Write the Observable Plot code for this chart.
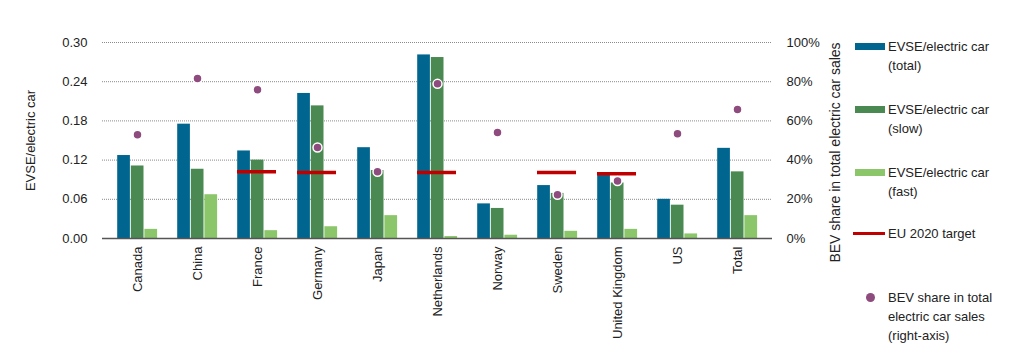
<!DOCTYPE html>
<html>
<head>
<meta charset="utf-8">
<script src="https://cdn.jsdelivr.net/npm/d3@7"></script>
<script src="https://cdn.jsdelivr.net/npm/@observablehq/plot@0.6"></script>
<style>
  html, body { margin: 0; padding: 0; background: #fff; }
  #wrap { position: relative; width: 1024px; height: 361px; overflow: hidden; font-family: "Liberation Sans", Arial, sans-serif; color: #222; }
  .lg { position: absolute; font-size: 13px; line-height: 19px; color: #222; }
  .sw { position: absolute; }
</style>
</head>
<body>
<div id="wrap"></div>
<script>
const countries = ["Canada","China","France","Germany","Japan","Netherlands","Norway","Sweden","United Kingdom","US","Total"];
const evseTotal = [0.127,0.175,0.134,0.222,0.139,0.281,0.053,0.081,0.101,0.060,0.138];
const evseSlow  = [0.111,0.106,0.120,0.203,0.104,0.277,0.046,0.069,0.085,0.051,0.102];
const evseFast  = [0.014,0.067,0.012,0.018,0.035,0.003,0.005,0.011,0.014,0.007,0.035];
const bevShare  = [52.9,81.6,75.9,46.4,34.0,78.9,54.1,22.3,29.3,53.4,65.8];
const euTarget  = [null,null,0.102,0.101,null,0.101,null,0.101,0.099,null,null];
const leftTicks = [0,0.06,0.12,0.18,0.24,0.30];
const rightTicks = [0,20,40,60,80,100];
const rightMax = 100;
const leftMax = 0.30;

const C = {total:"#00668F", slow:"#4A8A52", fast:"#8CC66A", target:"#C00000", share:"#8E4B7E"};

const rows = countries.map((c,i)=>({country:c, total:evseTotal[i], slow:evseSlow[i], fast:evseFast[i], share:bevShare[i], target:euTarget[i]}));

const chart = Plot.plot({
  width: 1024, height: 361,
  marginTop: 42, marginBottom: 123, marginLeft: 102, marginRight: 252,
  style: {fontFamily: "'Liberation Sans', Arial, sans-serif", fontSize: "13px", color: "#222", background: "transparent"},
  x: {domain: countries, paddingInner: 0, paddingOuter: 0, axis: null},
  y: {domain: [0, leftMax], axis: null},
  marks: [
    Plot.ruleY(leftTicks.filter(t => t > 0), {stroke: "#8a8a8a", strokeDasharray: "1,1", strokeWidth: 1}),
    Plot.barY(rows, {x: "country", y: "total", fill: C.total, insetLeft: 10.2, insetRight: 37.1}),
    Plot.barY(rows, {x: "country", y: "slow", fill: C.slow, insetLeft: 23.8, insetRight: 23.5}),
    Plot.barY(rows, {x: "country", y: "fast", fill: C.fast, insetLeft: 37.4, insetRight: 9.9}),
    Plot.ruleY([0], {stroke: "#555", strokeWidth: 1.5}),
    Plot.tickY(rows.filter(d => d.target != null), {x: "country", y: "target", stroke: C.target, strokeWidth: 3.5, insetLeft: 10, insetRight: 11}),
    Plot.dot(rows, {x: "country", y: d => d.share / rightMax * leftMax, r: 4.5, fill: C.share, stroke: "white", strokeWidth: 1.5}),
    Plot.axisX({tickRotate: -90, tickSize: 0, tickPadding: 8, label: null, fontSize: 13}),
    Plot.axisY(leftTicks, {tickSize: 0, tickPadding: 15, tickFormat: d => d.toFixed(2), label: null, fontSize: 13}),
    Plot.axisY(rightTicks.map(t => t / rightMax * leftMax), {anchor: "right", tickSize: 0, tickPadding: 14, tickFormat: d => Math.round(d / leftMax * rightMax) + "%", label: null, fontSize: 13}),
    Plot.text(["EVSE/electric car"], {frameAnchor: "left", textAnchor: "middle", dx: -72, rotate: -90, fontSize: 13, fill: "#222"}),
    Plot.text(["BEV share in total electric car sales"], {frameAnchor: "right", textAnchor: "middle", dx: 63, dy: 12, rotate: -90, fontSize: 14, fill: "#222"})
  ]
});
const wrap = document.getElementById("wrap");
wrap.appendChild(chart);

const legend = [
  {kind: "bar", color: C.total, lines: ["EVSE/electric car", "(total)"], cy: 46},
  {kind: "bar", color: C.slow, lines: ["EVSE/electric car", "(slow)"], cy: 109},
  {kind: "bar", color: C.fast, lines: ["EVSE/electric car", "(fast)"], cy: 172},
  {kind: "line", color: C.target, lines: ["EU 2020 target"], cy: 233},
  {kind: "dot", color: C.share, lines: ["BEV share in total", "electric car sales", "(right-axis)"], cy: 297}
];
for (const it of legend) {
  const sw = document.createElement("div");
  sw.className = "sw";
  if (it.kind === "bar") {
    Object.assign(sw.style, {left: "855px", top: (it.cy - 3.5) + "px", width: "30px", height: "7px", background: it.color});
  } else if (it.kind === "line") {
    Object.assign(sw.style, {left: "853px", top: (it.cy - 1.5) + "px", width: "32px", height: "3px", background: it.color});
  } else {
    Object.assign(sw.style, {left: "865.5px", top: (it.cy - 4.5) + "px", width: "9px", height: "9px", borderRadius: "50%", background: it.color});
  }
  wrap.appendChild(sw);
  const tx = document.createElement("div");
  tx.className = "lg";
  Object.assign(tx.style, {left: "888px", top: (it.cy - 9.5) + "px"});
  tx.innerHTML = it.lines.join("<br>");
  wrap.appendChild(tx);
}
</script>
</body>
</html>
